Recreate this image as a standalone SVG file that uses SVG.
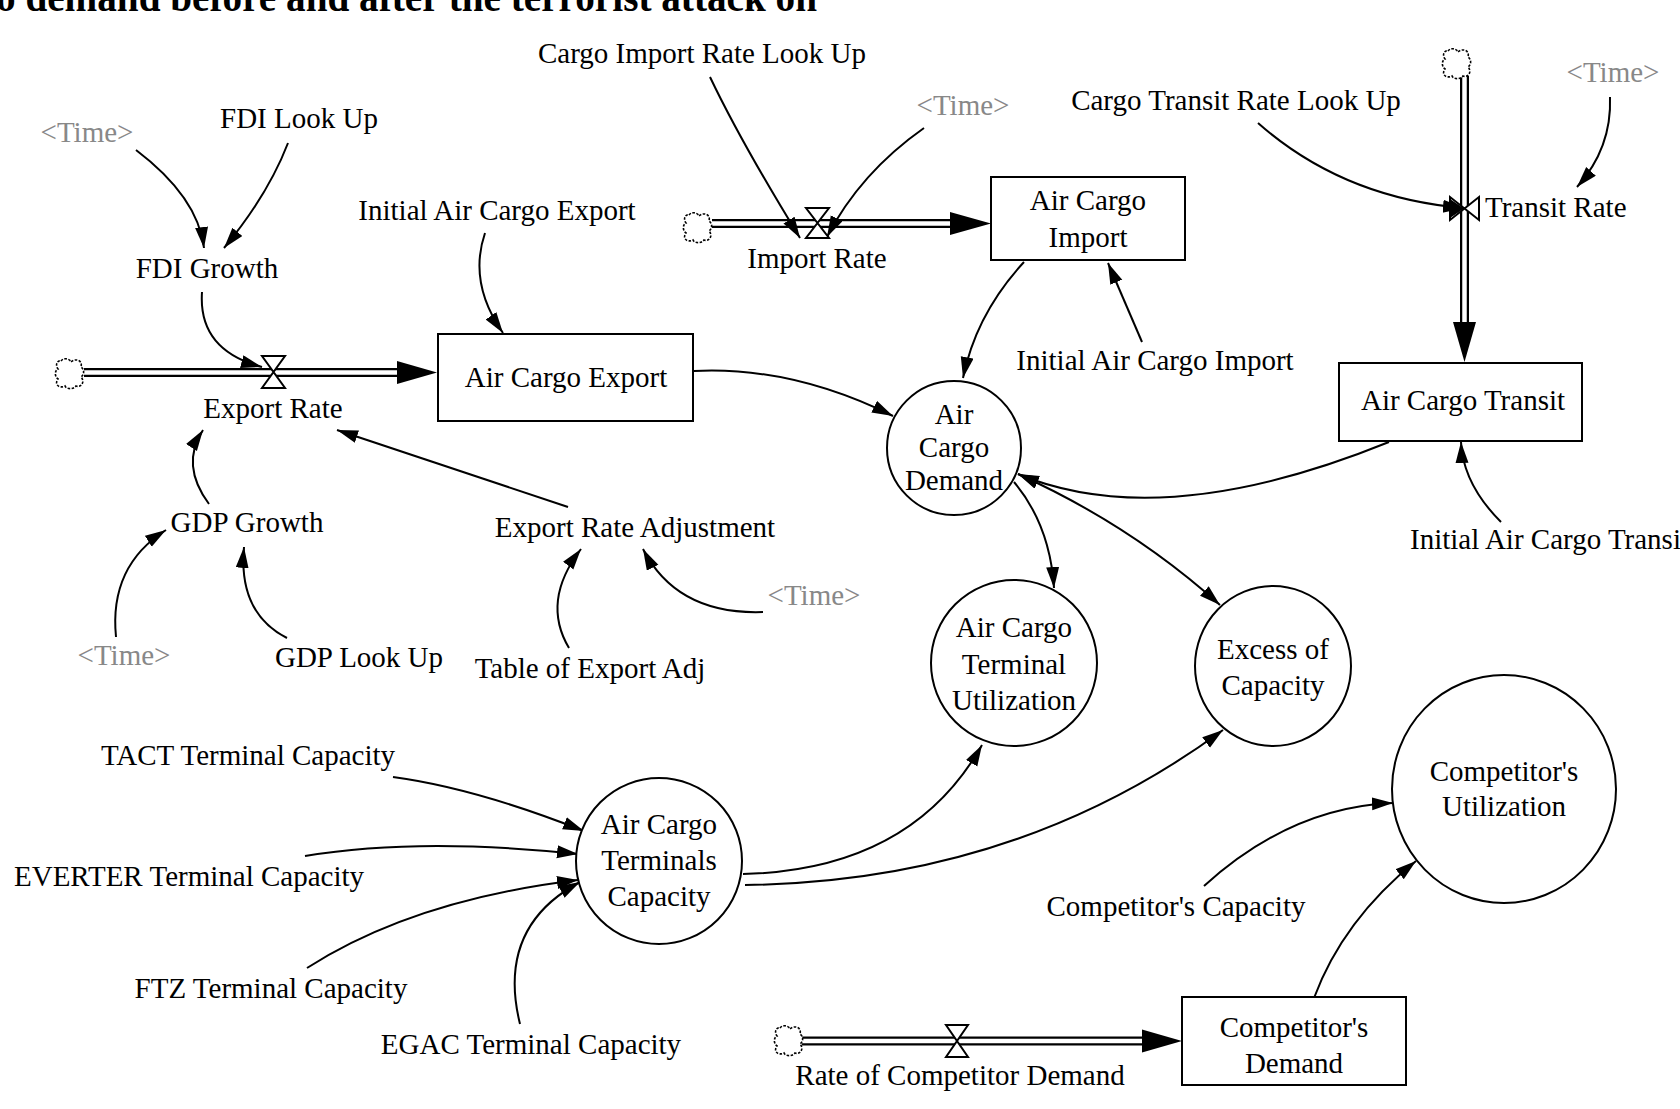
<svg xmlns="http://www.w3.org/2000/svg" width="1680" height="1109" viewBox="0 0 1680 1109">
<style>
text{font-family:"Liberation Serif","Times New Roman",serif;font-size:29px;fill:#000;text-anchor:middle}
.shadow{fill:#888}
.st{text-anchor:start}
.box{fill:#fff;stroke:#000;stroke-width:2}
.aux{fill:#fff;stroke:#000;stroke-width:2}
.lk{fill:none;stroke:#000;stroke-width:2;marker-end:url(#ah)}
.po{fill:none;stroke:#000;stroke-width:9}
.pi{fill:none;stroke:#fff;stroke-width:4.5}
.fa{fill:#000}
.valve{fill:#fff;stroke:#000;stroke-width:2}
.cloud{fill:#fff;stroke:#000;stroke-width:1.6;stroke-dasharray:2.5 1.5}
</style>
<defs>
<marker id="ah" markerUnits="userSpaceOnUse" markerWidth="22" markerHeight="14" refX="21" refY="6.5" orient="auto">
<path d="M0,0 L21,6.5 L0,13 Z" fill="#000"/>
</marker>
<marker id="ahs" markerUnits="userSpaceOnUse" markerWidth="22" markerHeight="14" refX="21" refY="6.5" orient="auto-start-reverse">
<path d="M0,0 L21,6.5 L0,13 Z" fill="#000"/>
</marker>
<path id="cl" d="M6,3 C9,-1 15,1 16,4 C20,0 28,2 26,9 C30,12 29,17 26,19 C30,23 27,30 21,28 C18,32 11,31 10,28 C4,31 -1,26 3,21 C-1,18 0,12 3,11 C0,7 2,2 6,3 Z"/>
</defs>
<rect width="1680" height="1109" fill="#fff"/>

<text x="-4" y="11" class="st" style="font-size:42px;font-weight:bold" textLength="821" lengthAdjust="spacingAndGlyphs">o demand before and after the terrorist attack on</text>

<g id="connectors">
<!-- flow pipes -->
<path class="po" d="M84,372.5 H399"/><path class="pi" d="M84,372.5 H399"/>
<path class="fa" d="M397,361 L437,372.5 L397,384 Z"/>
<path class="po" d="M712,223.5 H952"/><path class="pi" d="M712,223.5 H952"/>
<path class="fa" d="M950,212 L991,223.5 L950,235 Z"/>
<path class="po" d="M802,1041 H1144"/><path class="pi" d="M802,1041 H1144"/>
<path class="fa" d="M1142,1029.5 L1182,1041 L1142,1052.5 Z"/>
<path class="po" d="M1464.5,76 V324"/><path class="pi" d="M1464.5,76 V324"/>
<path class="fa" d="M1453,322 L1464.5,362 L1476,322 Z"/>
<!-- links -->
<path class="lk" d="M136,150 Q198,197 204,248"/>
<path class="lk" d="M288,143 Q268,195 224,248"/>
<path class="lk" d="M202,292 Q198,350 262,367"/>
<path class="lk" d="M485,233 Q468,283 503,333"/>
<path class="lk" d="M694,371 Q792,366 893,416"/>
<path class="lk" d="M209,504 Q180,465 203,430"/>
<path class="lk" d="M568,507 L337,430"/>
<path class="lk" d="M116,637 Q109,566 166,530"/>
<path class="lk" d="M287,638 Q238,613 244,547"/>
<path class="lk" d="M569,648 Q541,601 581,549"/>
<path class="lk" d="M763,612 Q677,615 643,549"/>
<path class="lk" d="M710,77 Q741,142 800,238"/>
<path class="lk" d="M924,128 Q860,173 827,237"/>
<path class="lk" d="M1024,262 Q976,314 963,378"/>
<path class="lk" d="M1142,342 L1108,263"/>
<path class="lk" d="M1258,123 Q1343,198 1464,208"/>
<path class="lk" d="M1610,97 Q1612,148 1577,187"/>
<path class="lk" d="M1389,442 Q1162,534 1018,474"/>
<path class="lk" d="M1501,522 Q1463,484 1461,442"/>
<path class="lk" d="M1014,482 Q1050,525 1054,588"/>
<path class="lk" style="marker-start:url(#ahs)" d="M1018,474 Q1131,525 1220,605"/>
<path class="lk" d="M743,874 Q911,870 982,745"/>
<path class="lk" d="M745,885 Q1016,882 1223,730"/>
<path class="lk" d="M393,777 Q475,788 584,831"/>
<path class="lk" d="M305,856 Q418,837 578,854"/>
<path class="lk" d="M307,968 Q413,900 578,880"/>
<path class="lk" d="M520,1024 Q496,927 580,882"/>
<path class="lk" d="M1204,886 Q1291,807 1393,803"/>
<path class="lk" d="M1314,998 Q1343,920 1416,861"/>
</g>

<g id="cloud-export"><use href="#cl" class="cloud" x="55" y="358"/></g>
<g id="cloud-import"><use href="#cl" class="cloud" x="683" y="212"/></g>
<g id="cloud-competitor"><use href="#cl" class="cloud" x="774" y="1025"/></g>
<g id="cloud-transit"><use href="#cl" class="cloud" x="1442" y="48"/></g>

<g id="export-rate">
<path class="valve" d="M262,356 H285 L262,388 H285 Z"/>
<text x="273" y="418">Export Rate</text>
</g>
<g id="import-rate">
<path class="valve" d="M806,208 H829 L806,238 H829 Z"/>
<text x="817" y="268">Import Rate</text>
</g>
<g id="rate-competitor-demand">
<path class="valve" d="M946,1025 H968 L946,1057 H968 Z"/>
<text x="960" y="1085">Rate of Competitor Demand</text>
</g>
<g id="transit-rate">
<path class="valve" d="M1450,197 V220 L1479,197 V220 Z"/>
<path class="fa" d="M1450,199 L1464,208.5 L1450,218 Z"/>
<text x="1485" y="217" class="st">Transit Rate</text>
</g>

<g id="air-cargo-export">
<rect class="box" x="438" y="334" width="255" height="87"/>
<text x="566" y="387">Air Cargo Export</text>
</g>
<g id="air-cargo-import">
<rect class="box" x="991" y="177" width="194" height="83"/>
<text x="1088" y="210">Air Cargo</text>
<text x="1088" y="247">Import</text>
</g>
<g id="air-cargo-transit">
<rect class="box" x="1339" y="363" width="243" height="78"/>
<text x="1463" y="410">Air Cargo Transit</text>
</g>
<g id="competitors-demand">
<rect class="box" x="1182" y="997" width="224" height="88"/>
<text x="1294" y="1037">Competitor's</text>
<text x="1294" y="1073">Demand</text>
</g>

<g id="air-cargo-demand">
<circle class="aux" cx="954" cy="448" r="67"/>
<text x="954" y="424">Air</text>
<text x="954" y="457">Cargo</text>
<text x="954" y="490">Demand</text>
</g>
<g id="air-cargo-terminal-utilization">
<circle class="aux" cx="1014" cy="663" r="83"/>
<text x="1014" y="637">Air Cargo</text>
<text x="1014" y="674">Terminal</text>
<text x="1014" y="710">Utilization</text>
</g>
<g id="excess-of-capacity">
<ellipse class="aux" cx="1273" cy="666" rx="78" ry="80"/>
<text x="1273" y="659">Excess of</text>
<text x="1273" y="695">Capacity</text>
</g>
<g id="competitors-utilization">
<ellipse class="aux" cx="1504" cy="789" rx="112" ry="114"/>
<text x="1504" y="781">Competitor's</text>
<text x="1504" y="816">Utilization</text>
</g>
<g id="air-cargo-terminals-capacity">
<circle class="aux" cx="659" cy="861" r="83"/>
<text x="659" y="834">Air Cargo</text>
<text x="659" y="870">Terminals</text>
<text x="659" y="906">Capacity</text>
</g>

<g id="time-1"><text class="shadow" x="87" y="142">&lt;Time&gt;</text></g>
<g id="fdi-look-up"><text x="299" y="128">FDI Look Up</text></g>
<g id="fdi-growth"><text x="207" y="278">FDI Growth</text></g>
<g id="initial-air-cargo-export"><text x="497" y="220">Initial Air Cargo Export</text></g>
<g id="cargo-import-rate-look-up"><text x="702" y="63">Cargo Import Rate Look Up</text></g>
<g id="time-2"><text class="shadow" x="963" y="115">&lt;Time&gt;</text></g>
<g id="cargo-transit-rate-look-up"><text x="1236" y="110">Cargo Transit Rate Look Up</text></g>
<g id="time-3"><text class="shadow" x="1613" y="82">&lt;Time&gt;</text></g>
<g id="initial-air-cargo-import"><text x="1155" y="370">Initial Air Cargo Import</text></g>
<g id="initial-air-cargo-transit"><text x="1410" y="549" class="st">Initial Air Cargo Transit</text></g>
<g id="gdp-growth"><text x="247" y="532">GDP Growth</text></g>
<g id="export-rate-adjustment"><text x="635" y="537">Export Rate Adjustment</text></g>
<g id="time-4"><text class="shadow" x="124" y="665">&lt;Time&gt;</text></g>
<g id="gdp-look-up"><text x="359" y="667">GDP Look Up</text></g>
<g id="table-of-export-adj"><text x="590" y="678">Table of Export Adj</text></g>
<g id="time-5"><text class="shadow" x="814" y="605">&lt;Time&gt;</text></g>
<g id="tact-terminal-capacity"><text x="248" y="765">TACT Terminal Capacity</text></g>
<g id="everter-terminal-capacity"><text x="189" y="886">EVERTER Terminal Capacity</text></g>
<g id="ftz-terminal-capacity"><text x="271" y="998">FTZ Terminal Capacity</text></g>
<g id="egac-terminal-capacity"><text x="531" y="1054">EGAC Terminal Capacity</text></g>
<g id="competitors-capacity"><text x="1176" y="916">Competitor's Capacity</text></g>
</svg>
